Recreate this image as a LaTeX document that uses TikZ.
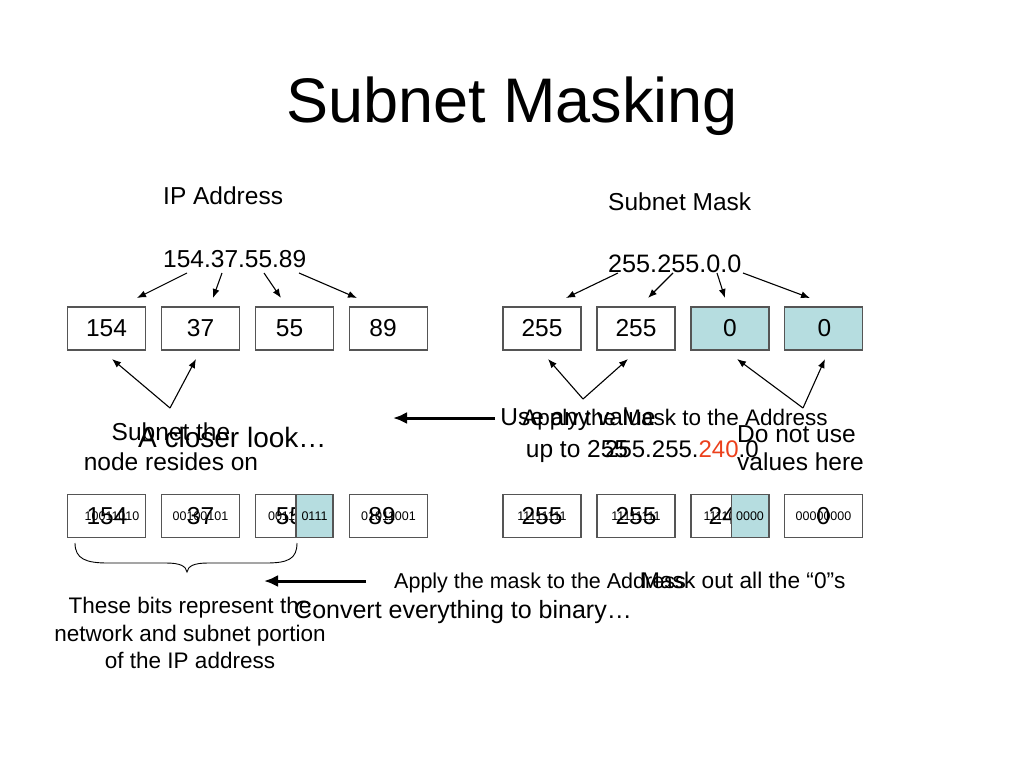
\documentclass[tikz,border=0pt]{standalone}
\usepackage{fontspec}
\setmainfont{Liberation Sans}
\usetikzlibrary{arrows.meta,calc}
\definecolor{boxgray}{RGB}{85,85,85}
\definecolor{maskteal}{RGB}{182,221,224}
\definecolor{redtxt}{RGB}{236,64,28}
\newcommand{\fsz}[1]{\fontsize{#1}{#1}\selectfont}
\begin{document}
\begin{tikzpicture}[x=1pt,y=-1pt,
  cell/.style={draw=boxgray, line width=1.1pt, fill=white, minimum width=78pt, minimum height=43pt, inner sep=0pt},
  shadecell/.style={draw=boxgray, line width=1.1pt, fill=maskteal, minimum width=37pt, minimum height=43pt, inner sep=0pt},
  big/.style={font=\fsz{24.5}, inner sep=0pt},
  bits/.style={font=\fsz{12.5}, inner sep=0pt},
  lbl/.style={font=\fsz{24.5}, inner sep=0pt, anchor=base},
  lblw/.style={font=\fsz{24.5}, inner sep=0pt, anchor=base west},
  ptr/.style={-{Latex[length=9pt,width=7pt]}, line width=1.1pt},
  fat/.style={-{Latex[length=14pt,width=12pt]}, line width=3pt},
]
\useasboundingbox[fill=white] (0,0) rectangle (1024,768);

% title and headings
\node[lbl, font=\fsz{63}] (title) at (512,122) {Subnet Masking};
\node[lblw] (iphead) at (163,204) {IP Address};
\node[lblw] (ipnum) at (163,267) {154.37.55.89};
\node[lblw] (mkhead) at (608,210) {Subnet Mask};
\node[lblw, font=\fsz{25.2}] (mknum) at (608,272) {255.255.0.0};

% top row boxes
\node[cell] (a1) at (106.5,328.5) {};
\node[cell] (a2) at (200.5,328.5) {};
\node[cell] (a3) at (294.5,328.5) {};
\node[cell] (a4) at (388.5,328.5) {};
\node[cell] (m1) at (542,328.5) {};
\node[cell] (m2) at (636,328.5) {};
\node[cell, fill=maskteal] (m3) at (730,328.5) {};
\node[cell, fill=maskteal] (m4) at (823.5,328.5) {};
\node[big] (a1t) at (106.5,328.5) {154};
\node[big] (a2t) at (200.5,328.5) {37};
\node[big] (a3t) at (289.5,328.5) {55};
\node[big] (a4t) at (383,328.5) {89};
\node[big] (m1t) at (542,328.5) {255};
\node[big] (m2t) at (636,328.5) {255};
\node[big] (m3t) at (730,328.5) {0};
\node[big] (m4t) at (824.5,328.5) {0};

% arrows from dotted numbers to boxes
\coordinate (ip1) at (187,273); \coordinate (ip1h) at (137,298);
\coordinate (ip2) at (222,273); \coordinate (ip2h) at (213,298);
\coordinate (ip3) at (264,273); \coordinate (ip3h) at (281,298);
\coordinate (ip4) at (299,273); \coordinate (ip4h) at (357,298);
\coordinate (mk1) at (618,273); \coordinate (mk1h) at (566,298);
\coordinate (mk2) at (673,273); \coordinate (mk2h) at (648,298);
\coordinate (mk3) at (717,273); \coordinate (mk3h) at (725,298);
\coordinate (mk4) at (743,273); \coordinate (mk4h) at (810,298);
\foreach \p in {ip1,ip2,ip3,ip4,mk1,mk2,mk3,mk4}{\draw[ptr] (\p) -- (\p h);}

% V arrows under boxes
\coordinate (vL) at (170,408); \coordinate (vLa) at (112,359); \coordinate (vLb) at (196,359);
\coordinate (vM) at (583,399); \coordinate (vMa) at (548,359); \coordinate (vMb) at (628,359);
\coordinate (vN) at (803,408); \coordinate (vNa) at (737,359); \coordinate (vNb) at (825,359);
\foreach \v in {vL,vM,vN}{\draw[ptr] (\v) -- (\v a); \draw[ptr] (\v) -- (\v b);}

% middle texts
\node[lbl] (sub1) at (171,440) {Subnet the};
\node[lbl] (sub2) at (171,470) {node resides on};
\node[lblw, font=\fsz{28}] (closer) at (138,447) {A closer look…};
\coordinate (fat1s) at (495,418); \coordinate (fat1e) at (393,418);
\draw[fat] (fat1s) -- (fat1e);
\node[lbl] (use1) at (578,425) {Use any value};
\node[lbl] (use2) at (577,457) {up to 255};
\node[lbl, font=\fsz{22.5}] (app1) at (675,425) {Apply the Mask to the Address};
\node[lblw, font=\fsz{24}] (app2) at (605,457) {255.255.\textcolor{redtxt}{240}.0};
\node[lblw] (dn1) at (737,442) {Do not use};
\node[lblw] (dn2) at (737,470) {values here};

% bottom row boxes
\node[cell] (b1) at (106.5,516) {};
\node[cell] (b2) at (200.5,516) {};
\node[cell] (b3) at (294.5,516) {};
\node[cell] (b4) at (388.5,516) {};
\node[cell] (n1) at (542,516) {};
\node[cell] (n2) at (636,516) {};
\node[cell] (n3) at (730,516) {};
\node[cell] (n4) at (823.5,516) {};
\node[bits] (b1s) at (112,516) {10011010};
\node[bits] (b2s) at (200.5,516) {00100101};
\node[bits] (b3s) at (294.5,516) {00110111};
\node[bits] (b4s) at (388.5,516) {01011001};
\node[bits] (n1s) at (542,516) {11111111};
\node[bits] (n2s) at (636,516) {11111111};
\node[bits] (n3s) at (730,516) {11110000};
\node[bits] (n4s) at (823.5,516) {00000000};
\node[big] (b1t) at (107,516) {154};
\node[big] (b2t) at (200.5,516) {37};
\node[big] (b3t) at (289.5,516) {55};
\node[big] (b4t) at (382,516) {89};
\node[big] (n1t) at (542,516) {255};
\node[big] (n2t) at (636,516) {255};
\node[big] (n3t) at (729,516) {240};
\node[big] (n4t) at (823.5,516) {0};
\node[shadecell] (b3h) at (314.5,516) {};
\node[shadecell] (n3h) at (750,516) {};
\node[bits] (b3hs) at (b3h) {0111};
\node[bits] (n3hs) at (n3h) {0000};

% brace
\draw[line width=0.9pt] (75,543) .. controls (75,559) and (86,563) .. (108,563) -- (166,563)
  .. controls (180,563) and (186,566) .. (187,572)
  .. controls (188,566) and (194,563) .. (208,563) -- (266,563)
  .. controls (288,563) and (297,559) .. (297,543);

% bottom texts
\coordinate (fat2s) at (366,581); \coordinate (fat2e) at (264,581);
\draw[fat] (fat2s) -- (fat2e);
\node[lblw, font=\fsz{21.5}] (appm) at (394,588) {Apply the mask to the Address};
\node[lblw, font=\fsz{22.7}] (mout) at (641,588) {Mask out all the “0”s};
\node[lbl, font=\fsz{22.5}] (bits1) at (190,613) {These bits represent the};
\node[lbl, font=\fsz{22.5}] (bits2) at (190,641) {network and subnet portion};
\node[lbl, font=\fsz{22.5}] (bits3) at (190,668) {of the IP address};
\node[lblw, font=\fsz{25}] (conv) at (294,618) {Convert everything to binary…};
\end{tikzpicture}
\end{document}
